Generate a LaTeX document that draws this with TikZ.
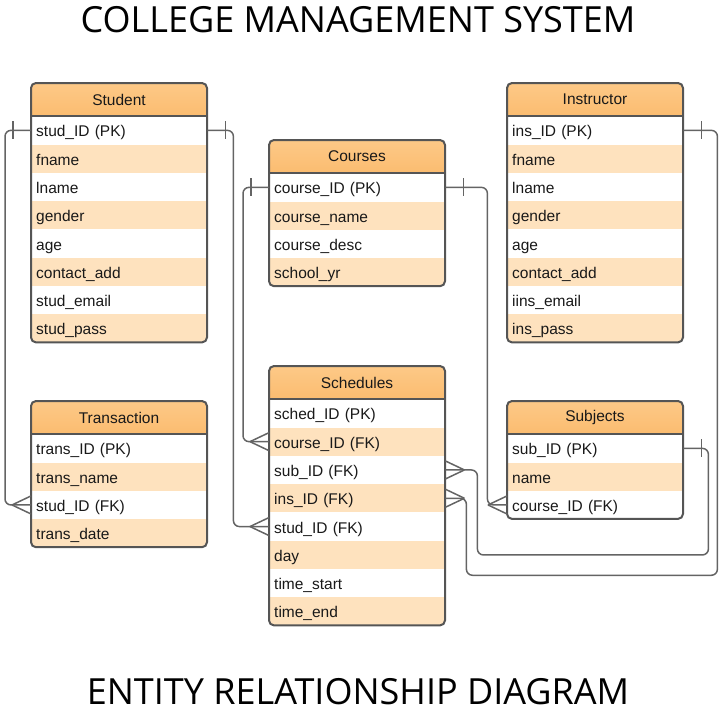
\documentclass[tikz,border=0pt]{standalone}
\usepackage{fontspec}
\setmainfont{Liberation Sans}
\newfontfamily\titlefont{Open Sans}
\usetikzlibrary{calc}
\definecolor{headtop}{HTML}{FDC987}
\definecolor{headbot}{HTML}{FBBC70}
\definecolor{stripe}{HTML}{FEE2BE}
\definecolor{boxline}{HTML}{555555}
\definecolor{linkgray}{HTML}{646464}
\tikzset{
  enthead/.style={minimum width=176pt, minimum height=33pt, inner sep=0pt,
    font=\fontsize{15.5}{18}\selectfont, text=black!90},
  entfield/.style={anchor=north west, minimum height=28.3pt, text width=166pt,
    text height=14pt, text depth=1pt, inner xsep=5pt, inner ysep=0pt, align=left,
    font=\fontsize{15.5}{18}\selectfont, text=black!90},
  entedge/.style={draw=boxline, line width=2pt},
  relline/.style={draw=linkgray, line width=1.5pt},
  titletext/.style={font=\titlefont\fontsize{36}{40}\selectfont, text=black}
}
\newcommand{\erentity}[6]{%
  \begin{scope}
    \clip[rounded corners=5pt] (#2,#3) rectangle ++(176,33+28.3*#5);
    \shade[top color=headtop, bottom color=headbot] (#2,#3) rectangle ++(176,33);
    \foreach \fld [count=\i] in {#6} {
      \ifodd\i \def\rowfill{white}\else \def\rowfill{stripe}\fi
      \node[entfield, fill=\rowfill] (#1-\i) at (#2,#3+33+28.3*\i-28.3) {\fld};
    }
  \end{scope}
  \node[enthead] (#1) at (#2+88,#3+16.5) {#4};
  \draw[entedge] (#2,#3+33) -- ++(176,0);
  \draw[entedge, rounded corners=5pt] (#2,#3) rectangle ++(176,33+28.3*#5);
}
\newcommand{\onebar}[2]{\draw[relline] ($(#1)+(#2*18,-9)$) -- ++(0,18);}
\newcommand{\crowfoot}[2]{\draw[relline] ($(#1)+(#2*19,0)$) -- ($(#1)+(0,-9)$)
  ($(#1)+(#2*19,0)$) -- ($(#1)+(0,9)$);}
\begin{document}
\begin{tikzpicture}[x=1pt, y=-1pt]
\useasboundingbox (0,0) rectangle (720,720);
\node[titletext] (title) at (358,20) {COLLEGE MANAGEMENT SYSTEM};
\node[titletext] (subtitle) at (358,692) {ENTITY RELATIONSHIP DIAGRAM};

\erentity{stud}{31}{83}{Student}{8}{stud\_ID (PK), fname, lname, gender, age, contact\_add, stud\_email, stud\_pass}
\erentity{course}{269}{140}{Courses}{4}{course\_ID (PK), course\_name, course\_desc, school\_yr}
\erentity{inst}{507}{83}{Instructor}{8}{ins\_ID (PK), fname, lname, gender, age, contact\_add, iins\_email, ins\_pass}
\erentity{trans}{31}{401}{Transaction}{4}{trans\_ID (PK), trans\_name, stud\_ID (FK), trans\_date}
\erentity{sched}{269}{366}{Schedules}{8}{sched\_ID (PK), course\_ID (FK), sub\_ID (FK), ins\_ID (FK), stud\_ID (FK), day, time\_start, time\_end}
\erentity{subj}{507}{401}{Subjects}{3}{sub\_ID (PK), name, course\_ID (FK)}

\draw[relline, rounded corners=6pt] (stud-1.west) -- ++(-26,0) |- (trans-3.west);
\onebar{stud-1.west}{-1}
\crowfoot{trans-3.west}{-1}

\draw[relline, rounded corners=6pt] (stud-1.east) -- ++(26,0) |- (sched-5.west);
\onebar{stud-1.east}{1}
\crowfoot{sched-5.west}{-1}

\draw[relline, rounded corners=6pt] (course-1.west) -- ++(-26,0) |- (sched-2.west);
\onebar{course-1.west}{-1}
\crowfoot{sched-2.west}{-1}

\draw[relline, rounded corners=6pt] (course-1.east) -- ++(42,0) |- (subj-3.west);
\onebar{course-1.east}{1}
\crowfoot{subj-3.west}{-1}

\draw[relline, rounded corners=6pt] (inst-1.east) -- ++(34,0)
  |- ($(sched-4.east)+(21,77)$) |- (sched-4.east);
\onebar{inst-1.east}{1}
\crowfoot{sched-4.east}{1}

\draw[relline, rounded corners=6pt] (subj-1.east) -- ++(25,0)
  |- ($(sched-3.east)+(32,85)$) |- (sched-3.east);
\onebar{subj-1.east}{1}
\crowfoot{sched-3.east}{1}
\end{tikzpicture}
\end{document}
